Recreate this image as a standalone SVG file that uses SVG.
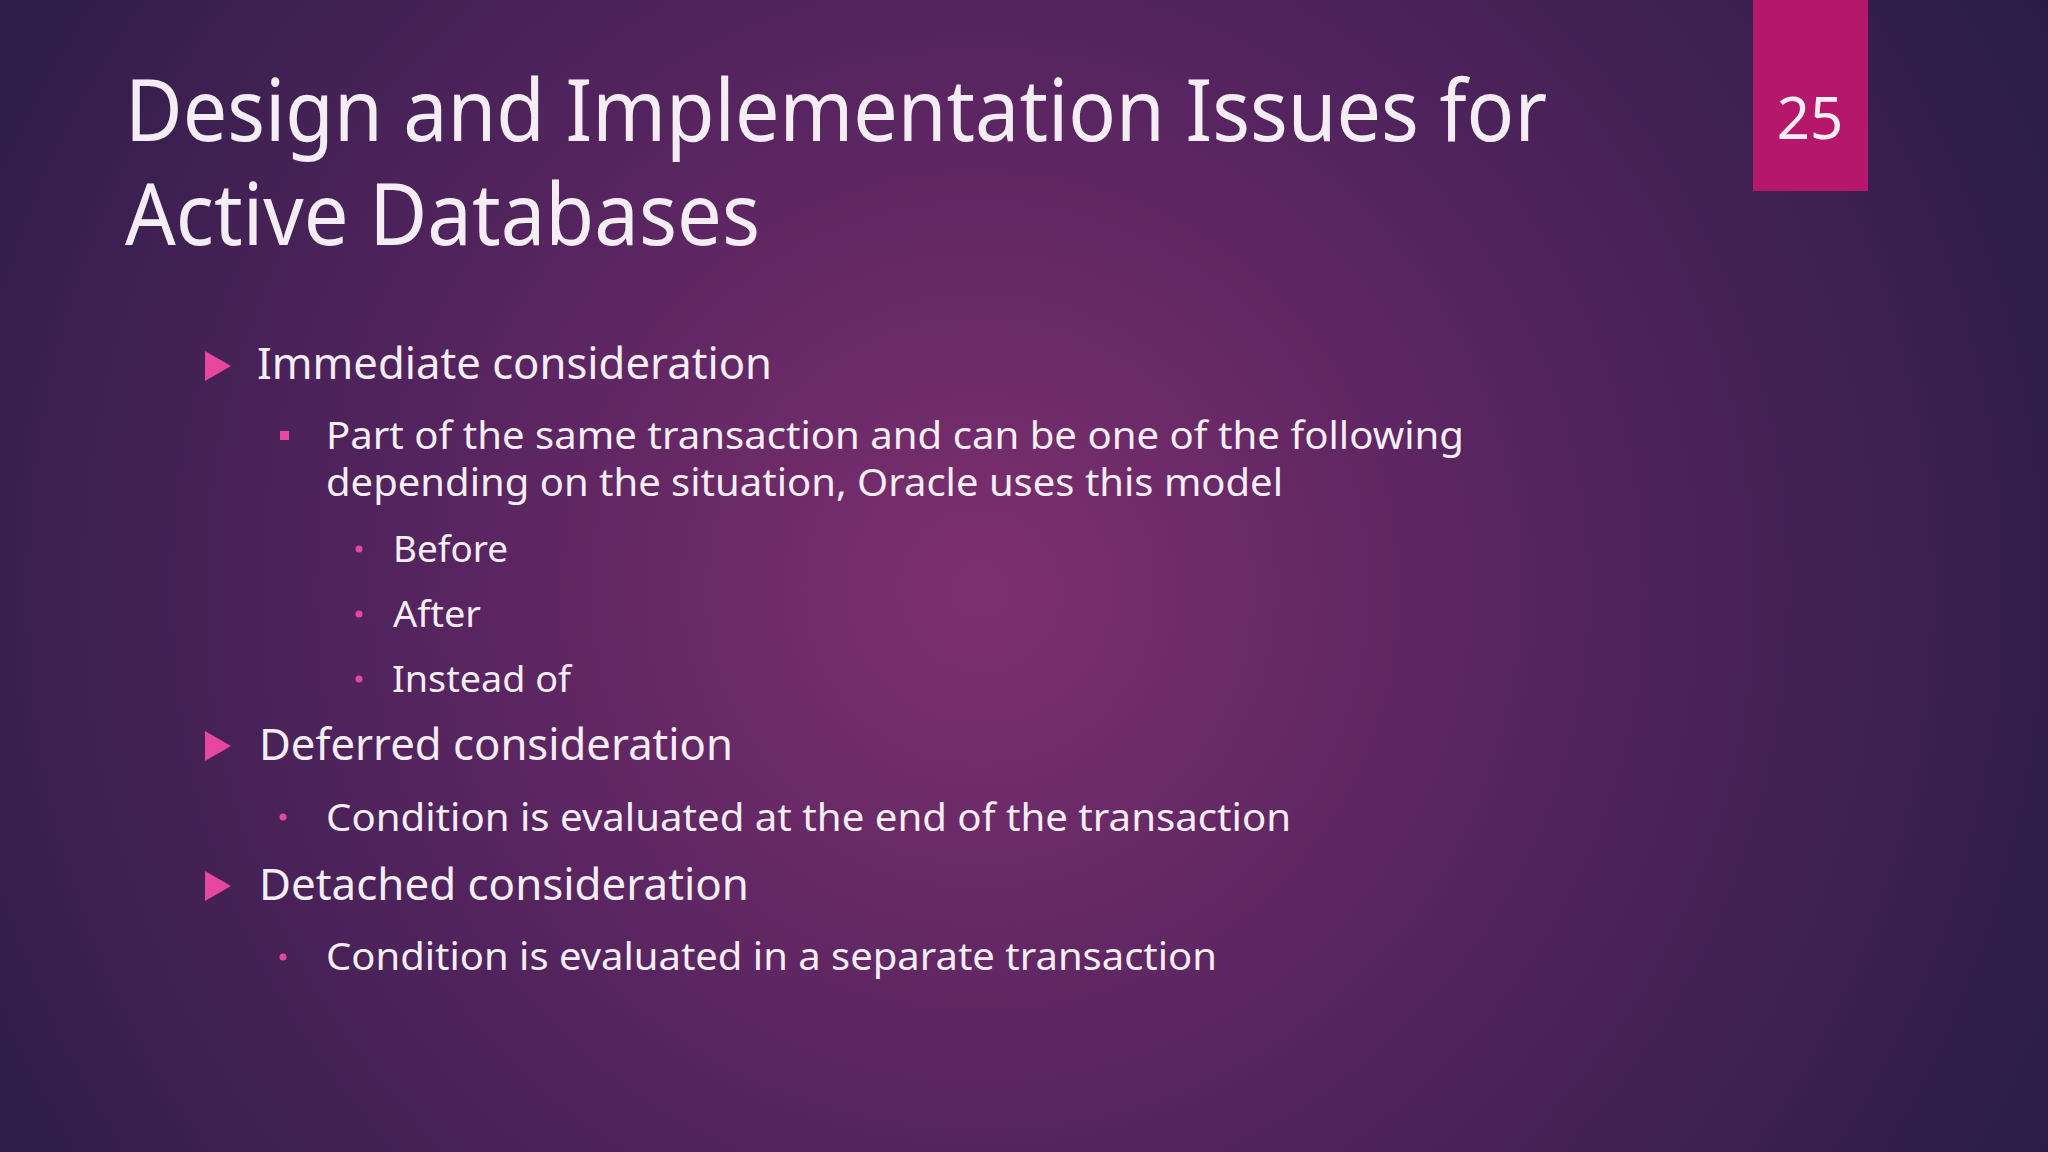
<svg xmlns="http://www.w3.org/2000/svg" width="2048" height="1152" viewBox="0 0 2048 1152">
<defs>
<radialGradient id="bg" cx="980" cy="590" r="1250" gradientUnits="userSpaceOnUse">
<stop offset="0" stop-color="#7e2f6f"/>
<stop offset="0.45" stop-color="#55245f"/>
<stop offset="1" stop-color="#261c45"/>
</radialGradient>
<style>
text{font-family:"Noto Sans","Open Sans","Liberation Sans",sans-serif;fill:#f4eef4}
.t{font-size:86px}
.l1{font-size:44px}
.l2{font-size:39px}
.l3{font-size:37px}
.tri{fill:#e6479f}
.dot{fill:#e6479f}
</style>
</defs>
<rect width="2048" height="1152" fill="url(#bg)"/>
<g id="title">
<text class="t" x="125" y="141" textLength="1422" lengthAdjust="spacingAndGlyphs">Design and Implementation Issues for</text>
<text class="t" x="125" y="245" textLength="635" lengthAdjust="spacingAndGlyphs">Active Databases</text>
</g>
<g id="pagenum">
<rect x="1753" y="0" width="115" height="191" fill="#b5186b"/>
<text x="1810" y="139" font-size="58" text-anchor="middle">25</text>
</g>
<g id="body">
<polygon class="tri" points="205,351 231,366 205,381"/>
<text class="l1" x="257" y="379" textLength="515" lengthAdjust="spacingAndGlyphs">Immediate consideration</text>
<rect class="dot" x="280" y="431" width="9" height="9"/>
<text class="l2" x="326" y="449" textLength="1138" lengthAdjust="spacingAndGlyphs">Part of the same transaction and can be one of the following</text>
<text class="l2" x="326" y="496" textLength="957" lengthAdjust="spacingAndGlyphs">depending on the situation, Oracle uses this model</text>
<circle class="dot" cx="359" cy="549" r="3.5"/>
<text class="l3" x="393" y="562" textLength="115" lengthAdjust="spacingAndGlyphs">Before</text>
<circle class="dot" cx="359" cy="614" r="3.5"/>
<text class="l3" x="393" y="627" textLength="88" lengthAdjust="spacingAndGlyphs">After</text>
<circle class="dot" cx="359" cy="679" r="3.5"/>
<text class="l3" x="392" y="692" textLength="179" lengthAdjust="spacingAndGlyphs">Instead of</text>
<polygon class="tri" points="205,731 231,746 205,761"/>
<text class="l1" x="259" y="760" textLength="474" lengthAdjust="spacingAndGlyphs">Deferred consideration</text>
<circle class="dot" cx="283" cy="817" r="3.5"/>
<text class="l2" x="326" y="831" textLength="965" lengthAdjust="spacingAndGlyphs">Condition is evaluated at the end of the transaction</text>
<polygon class="tri" points="205,871 231,886 205,901"/>
<text class="l1" x="259" y="900" textLength="490" lengthAdjust="spacingAndGlyphs">Detached consideration</text>
<circle class="dot" cx="283" cy="957" r="3.5"/>
<text class="l2" x="326" y="970" textLength="891" lengthAdjust="spacingAndGlyphs">Condition is evaluated in a separate transaction</text>
</g>
</svg>
